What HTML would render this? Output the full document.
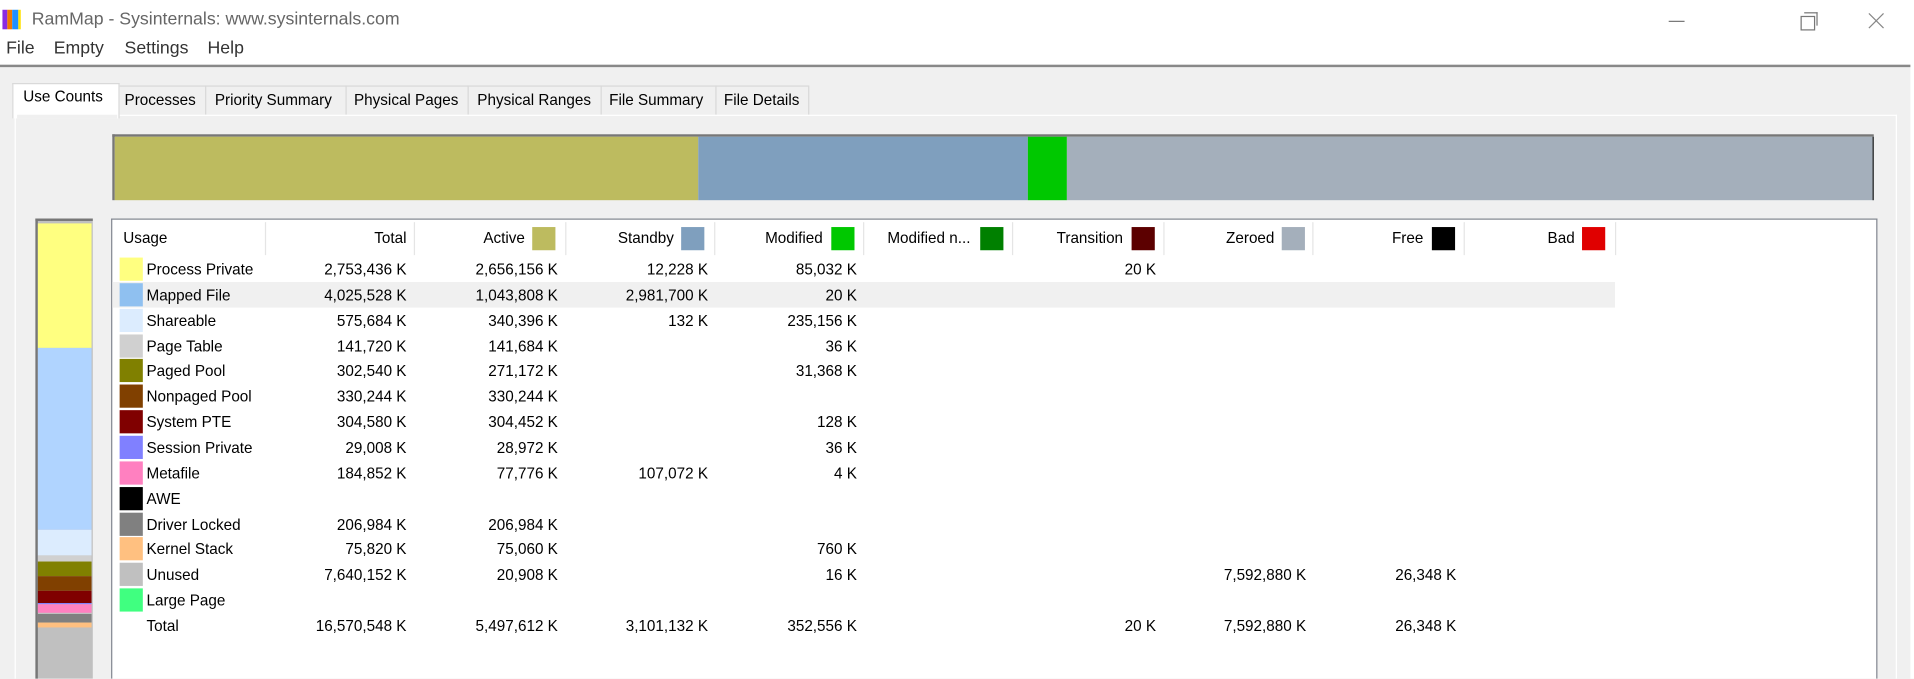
<!DOCTYPE html>
<html><head><meta charset="utf-8"><style>
html,body{margin:0;padding:0;width:1914px;height:679px;overflow:hidden;background:#f0f0f0}
#w{position:absolute;left:0;top:0;width:1568px;height:556px;transform:scale(1.2207);transform-origin:0 0;font-family:"Liberation Sans",sans-serif;color:#000;overflow:hidden}
.a{position:absolute}
.t{position:absolute;font-size:12.5px;white-space:nowrap;line-height:21px}
.r{text-align:right}
.sw{position:absolute;width:19px;height:19px}
</style></head><body><div id="w">
<div class="a" style="left:0;top:0;width:1568px;height:54px;background:#fff"></div>
<div class="a" style="left:2px;top:8px;width:4px;height:16px;background:#8a2be2"></div>
<div class="a" style="left:6px;top:8px;width:4px;height:16px;background:#f07800"></div>
<div class="a" style="left:10px;top:8px;width:5px;height:16px;background:#1e90ff"></div>
<div class="a" style="left:15px;top:8px;width:2px;height:16px;background:#ffe000"></div>
<div class="t" style="left:26px;top:6px;font-size:14.5px;color:#666">RamMap - Sysinternals: www.sysinternals.com</div>
<div class="a" style="left:1367px;top:17px;width:13px;height:1px;background:#777"></div>
<div class="a" style="left:1475px;top:13px;width:10px;height:10px;border:1px solid #777;background:#fff"></div>
<div class="a" style="left:1478px;top:10px;width:10px;height:10px;border-top:1px solid #777;border-right:1px solid #777"></div>
<svg class="a" style="left:1530px;top:10px" width="14" height="14"><path d="M1 1L13 13M13 1L1 13" stroke="#888" stroke-width="1"/></svg>
<div class="t" style="left:5px;top:30px;font-size:14.5px;color:#333">File</div>
<div class="t" style="left:44px;top:30px;font-size:14.5px;color:#333">Empty</div>
<div class="t" style="left:102px;top:30px;font-size:14.5px;color:#333">Settings</div>
<div class="t" style="left:170px;top:30px;font-size:14.5px;color:#333">Help</div>
<div class="a" style="left:0;top:53px;width:1568px;height:501px;background:#f0f0f0;border-top:2px solid #888"></div>
<div class="a" style="left:1565px;top:0;width:3px;height:556px;background:#fff"></div>
<div class="a" style="left:96px;top:70px;width:565px;height:24px;background:#f0f0f0;border:1px solid #d9d9d9"></div>
<div class="t" style="left:102px;top:72px;font-size:12.5px">Processes</div>
<div class="a" style="left:168px;top:70px;width:1px;height:24px;background:#d9d9d9"></div>
<div class="t" style="left:176px;top:72px;font-size:12.5px">Priority Summary</div>
<div class="a" style="left:283px;top:70px;width:1px;height:24px;background:#d9d9d9"></div>
<div class="t" style="left:290px;top:72px;font-size:12.5px">Physical Pages</div>
<div class="a" style="left:383px;top:70px;width:1px;height:24px;background:#d9d9d9"></div>
<div class="t" style="left:391px;top:72px;font-size:12.5px">Physical Ranges</div>
<div class="a" style="left:492px;top:70px;width:1px;height:24px;background:#d9d9d9"></div>
<div class="t" style="left:499px;top:72px;font-size:12.5px">File Summary</div>
<div class="a" style="left:586px;top:70px;width:1px;height:24px;background:#d9d9d9"></div>
<div class="t" style="left:593px;top:72px;font-size:12.5px">File Details</div>
<div class="a" style="left:12px;top:94px;width:1540px;height:461px;border:1px solid #fff;border-bottom:none;background:#f0f0f0"></div>
<div class="a" style="left:10px;top:68px;width:86px;height:28px;background:#fff;border:1px solid #d9d9d9;border-bottom:none"></div>
<div class="a" style="left:14px;top:94px;width:82px;height:3px;background:#f0f0f0"></div>
<div class="t" style="left:19px;top:69px;font-size:12.5px">Use Counts</div>
<div class="a" style="left:92px;top:110px;width:1443px;height:54px;border-top:2px solid #777;border-left:2px solid #777;box-sizing:border-box;display:flex">
<div style="width:478px;background:#bdbb5f"></div><div style="width:270px;background:#7f9fbe"></div><div style="width:32px;background:#00c800"></div><div style="flex:1;background:#a4afbb;border-right:1px solid #222"></div></div>
<div class="a" style="left:29px;top:179px;width:47px;height:377px;border-top:2px solid #777;border-left:2px solid #777;box-sizing:border-box;background:#c0c0c0">
<div class="a" style="left:0;top:2px;width:44px;height:102px;background:#ffff80"></div>
<div class="a" style="left:0;top:104px;width:44px;height:149px;background:#b0d4ff"></div>
<div class="a" style="left:0;top:253px;width:44px;height:21px;background:#dcecfe"></div>
<div class="a" style="left:0;top:274px;width:44px;height:5px;background:#d0d0d0"></div>
<div class="a" style="left:0;top:279px;width:44px;height:12px;background:#808000"></div>
<div class="a" style="left:0;top:291px;width:44px;height:12px;background:#804000"></div>
<div class="a" style="left:0;top:303px;width:44px;height:10px;background:#800000"></div>
<div class="a" style="left:0;top:313px;width:44px;height:1px;background:#8080ff"></div>
<div class="a" style="left:0;top:314px;width:44px;height:7px;background:#ff80c0"></div>
<div class="a" style="left:0;top:322px;width:44px;height:7px;background:#808080"></div>
<div class="a" style="left:0;top:329px;width:44px;height:4px;background:#ffc080"></div>
</div>
<div class="a" style="left:91px;top:179px;width:1447px;height:377px;border:1px solid #828790;border-bottom:none;box-sizing:border-box;background:#fff"></div>
<div class="a" style="left:92px;top:231px;width:1231px;height:21px;background:#f0f0f0"></div>
<div id="hdr"></div>
<div id="rows"></div>
</div>
<script>
var seps=[217,339,463,585,707,829,953,1075,1199,1323];
var h='';
seps.forEach(function(x){h+='<div class="a" style="left:'+x+'px;top:182px;width:1px;height:27px;background:#e5e5e5"></div>';});
var hd=[['Usage',101,'l'],['Total',333],['Active',430,0,'#bdbb5f',436],['Standby',552,0,'#7f9fbe',558],['Modified',674,0,'#00c800',681],['Modified n...',795,0,'#008000',803],['Transition',920,0,'#5c0000',927],['Zeroed',1044,0,'#a4afbb',1050],['Free',1166,0,'#000',1173],['Bad',1290,0,'#e00000',1296]];
hd.forEach(function(c){
 if(c[2]=='l')h+='<div class="t" style="left:'+c[1]+'px;top:185px">'+c[0]+'</div>';
 else h+='<div class="t r" style="left:'+(c[1]-150)+'px;width:150px;top:185px">'+c[0]+'</div>';
 if(c[3])h+='<div class="sw" style="left:'+c[4]+'px;top:186px;background:'+c[3]+'"></div>';
});
document.getElementById('hdr').outerHTML=h;
var rows=[
['Process Private','#ffff80','2,753,436 K','2,656,156 K','12,228 K','85,032 K','','20 K','',''],
['Mapped File','#8fc0f0','4,025,528 K','1,043,808 K','2,981,700 K','20 K','','','',''],
['Shareable','#dcecfe','575,684 K','340,396 K','132 K','235,156 K','','','',''],
['Page Table','#d0d0d0','141,720 K','141,684 K','','36 K','','','',''],
['Paged Pool','#808000','302,540 K','271,172 K','','31,368 K','','','',''],
['Nonpaged Pool','#804000','330,244 K','330,244 K','','','','','',''],
['System PTE','#800000','304,580 K','304,452 K','','128 K','','','',''],
['Session Private','#8080ff','29,008 K','28,972 K','','36 K','','','',''],
['Metafile','#ff80c0','184,852 K','77,776 K','107,072 K','4 K','','','',''],
['AWE','#000','','','','','','','',''],
['Driver Locked','#808080','206,984 K','206,984 K','','','','','',''],
['Kernel Stack','#ffc080','75,820 K','75,060 K','','760 K','','','',''],
['Unused','#c0c0c0','7,640,152 K','20,908 K','','16 K','','','7,592,880 K','26,348 K'],
['Large Page','#40ff80','','','','','','','',''],
['Total','','16,570,548 K','5,497,612 K','3,101,132 K','352,556 K','','20 K','7,592,880 K','26,348 K']];
var ends=[333,457,580,702,824,947,1070,1193];
var s='';
rows.forEach(function(r,i){
 var y=211+i*20.86;
 if(r[1])s+='<div class="sw" style="left:98px;top:'+y+'px;background:'+r[1]+'"></div>';
 s+='<div class="t" style="left:120px;top:'+y+'px">'+r[0]+'</div>';
 for(var k=0;k<8;k++){if(r[k+2])s+='<div class="t r" style="left:'+(ends[k]-120)+'px;width:120px;top:'+y+'px">'+r[k+2]+'</div>';}
});
document.getElementById('rows').outerHTML=s;
</script>
</body></html>
